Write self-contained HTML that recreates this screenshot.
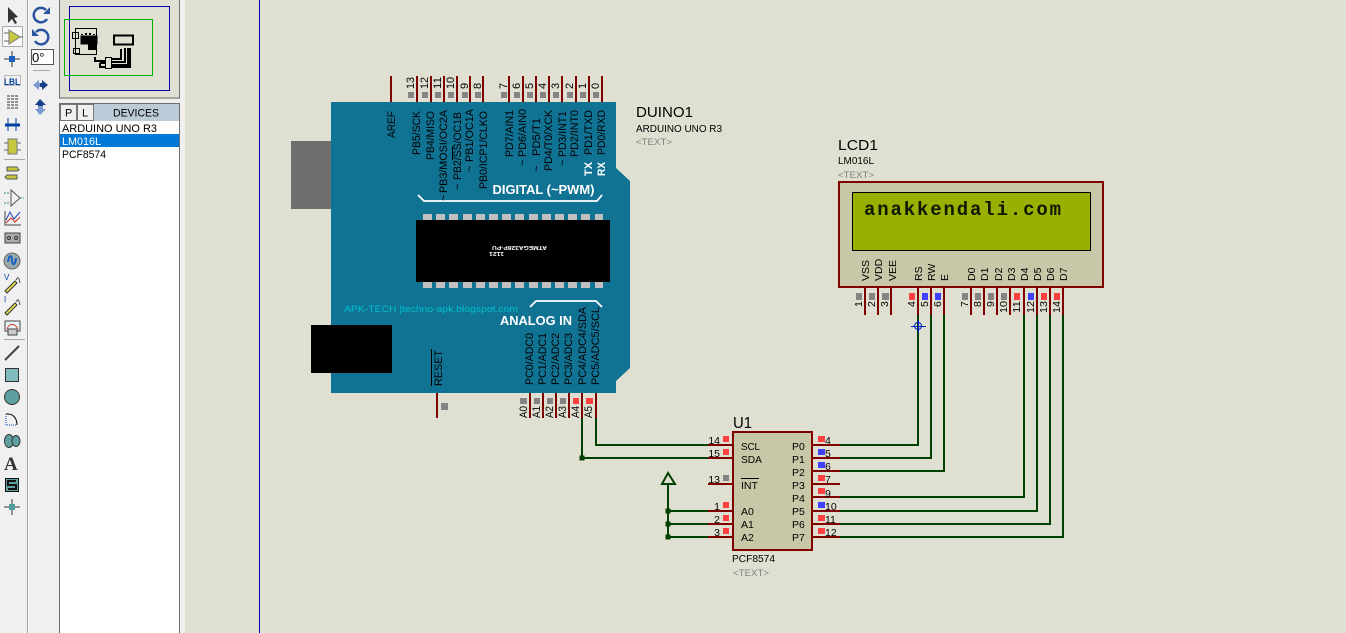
<!DOCTYPE html>
<html><head><meta charset="utf-8"><style>
html,body{margin:0;padding:0;width:1346px;height:633px;overflow:hidden;background:#e0e0d2}
svg{display:block}
text{font-family:"Liberation Sans",sans-serif;fill:#000}
.c{shape-rendering:crispEdges}
</style></head><body>
<svg width="1346" height="633" viewBox="0 0 1346 633" xmlns="http://www.w3.org/2000/svg">
<rect width="1346" height="633" fill="#e0e0d2"/>
<!-- chrome -->
<g class="c">
<rect x="0" y="0" width="185" height="633" fill="#f0f0f0"/>
<rect x="27" y="0" width="1" height="633" fill="#a0a0a0"/>
<rect x="28" y="0" width="1" height="633" fill="#fff"/>
<rect x="59" y="0" width="121" height="99" fill="#e0e0d2"/>
<rect x="59.500" y="-2" width="120" height="100" fill="none" stroke="#6e6e6e"/>
<rect x="59.500" y="103.500" width="120" height="531" fill="#fff" stroke="#6e6e6e"/>
<rect x="94" y="104" width="85" height="17" fill="#bccbd8"/>
<rect x="60.500" y="104.500" width="16" height="16" fill="#f0f0f0" stroke="#777"/>
<rect x="77.500" y="104.500" width="16" height="16" fill="#f0f0f0" stroke="#777"/>
<rect x="60" y="134" width="119" height="13" fill="#0078d7"/>
<rect x="259" y="0" width="1" height="633" fill="#0000c0"/>
<rect x="33" y="70" width="17" height="1" fill="#aaa"/>
<rect x="4" y="159" width="21" height="1" fill="#aaa"/>
<rect x="4" y="339" width="21" height="1" fill="#aaa"/>
<rect x="31.500" y="49.500" width="22" height="15" fill="#fff" stroke="#555"/>
<rect x="69.500" y="6.500" width="100" height="84" fill="none" stroke="#0000b0"/>
<rect x="64.500" y="19.500" width="88" height="56" fill="none" stroke="#00b000"/>
</g>
<!-- mini schematic -->
<g fill="none" stroke="#000" class="c">
<rect x="75.500" y="28.500" width="21" height="26"/>
<rect x="72.500" y="32.500" width="6" height="6"/>
<rect x="73.500" y="48.500" width="6" height="5"/>
<rect x="81" y="36" width="16" height="8" fill="#000"/>
<rect x="88" y="44" width="9" height="6" fill="#000" stroke="none"/>
<rect x="114" y="35.500" width="19" height="9" stroke-width="2"/>
<rect x="105.500" y="57.500" width="6" height="11"/>
<path d="M95 57V61H105M100 63H105M100 63V67H105M112 59H121V49M112 62H125V48M112 65H128V48M112 67H130V48" stroke-width="1.600"/>
</g>
<g fill="#000" class="c"><rect x="81" y="34" width="2" height="1"/><rect x="85" y="33" width="2" height="2"/><rect x="89" y="33" width="2" height="2"/><rect x="93" y="34" width="2" height="1"/></g>
<!-- panel text -->
<text x="65" y="116.500" font-size="11">P</text><text x="82" y="116.500" font-size="11">L</text>
<text x="113" y="116.500" font-size="11" textLength="46" lengthAdjust="spacingAndGlyphs">DEVICES</text>
<text x="62" y="132" font-size="11" textLength="95" lengthAdjust="spacingAndGlyphs">ARDUINO UNO R3</text>
<text x="62" y="145" font-size="11" style="fill:#fff" textLength="39" lengthAdjust="spacingAndGlyphs">LM016L</text>
<text x="62" y="158" font-size="11" textLength="44" lengthAdjust="spacingAndGlyphs">PCF8574</text>
<text x="32" y="62" font-size="13">0°</text>
<!-- toolbar icons -->
<path d="M8 7L8 23L12 19L15 24L17 23L14 18L18 17Z" fill="#333"/>
<rect x="2.500" y="26.500" width="20" height="20" fill="#f8f8f8" stroke="#aaa"/>
<path d="M9 30V44L20 37Z" fill="#c8c840" stroke="#777"/><path d="M4 33H9M4 41H9M20 37H23" stroke="#666"/>
<path d="M4 59H20M12 51V67" stroke="#333"/><rect x="9" y="56" width="6" height="6" fill="#1a5fc0"/>
<text x="4" y="85" font-size="9" font-weight="bold" style="fill:#003fa0" textLength="16" lengthAdjust="spacingAndGlyphs">LBL</text>
<rect x="4.500" y="75.500" width="16" height="10" fill="none" stroke="#888" stroke-dasharray="1 1"/>
<path d="M7 96H18M7 99H18M7 102H18M7 105H18M7 108H18" stroke="#333" stroke-dasharray="3 1"/>
<path d="M5 125H20" stroke="#003fa0" stroke-width="3"/><path d="M8 118V131M16 118V131" stroke="#003fa0"/>
<rect x="8" y="139" width="9" height="15" fill="#c8c840" stroke="#777"/><path d="M4 143H8M4 150H8M17 143H21M17 150H21" stroke="#666"/>
<path d="M7 167H17L19 170L17 171H7ZM7 175H17V179H7L5 177Z" fill="#c8c840" stroke="#555"/>
<path d="M11 190V206L20 198Z" fill="none" stroke="#555"/><path d="M4 193H10M4 203H10M20 198H24" stroke="#2a8a8a" stroke-dasharray="2 1"/>
<path d="M5 211V225H21" fill="none" stroke="#444"/><path d="M6 220L10 212L14 219L20 212" fill="none" stroke="#2040c0"/><path d="M6 223L11 218L15 222L20 217" fill="none" stroke="#d03020"/>
<rect x="5" y="233" width="15" height="10" fill="#aaa" stroke="#444"/><circle cx="9" cy="238" r="1.500" fill="none" stroke="#333"/><circle cx="16" cy="238" r="1.500" fill="none" stroke="#333"/>
<circle cx="12" cy="261" r="8" fill="#9aa" stroke="#666"/><path d="M8 262C9 254 12 255 12 260S15 267 16 258" fill="none" stroke="#1a5fc0" stroke-width="2"/>
<text x="4" y="280" font-size="8" style="fill:#003fa0">V</text><path d="M5 291L15 281L17 283L7 293Z" fill="#e8e050" stroke="#333"/><path d="M16 280C18 276 19 278 20 283" fill="none" stroke="#555"/>
<text x="4" y="302" font-size="8" style="fill:#003fa0">I</text><path d="M5 313L15 303L17 305L7 315Z" fill="#e8e050" stroke="#333"/><path d="M16 302C18 298 19 300 20 305" fill="none" stroke="#555"/>
<rect x="5" y="321" width="15" height="10" fill="#e8f0f8" stroke="#444"/><rect x="8" y="329" width="9" height="6" fill="#ccc" stroke="#444"/><path d="M7 329C9 323 15 323 18 329" fill="none" stroke="#d04020"/>
<path d="M5 360L19 346" stroke="#444" stroke-width="2"/>
<rect x="5.500" y="368.500" width="13" height="13" fill="#7fbcbc" stroke="#333"/>
<circle cx="12" cy="397" r="7.500" fill="#5f9f9f" stroke="#333"/>
<path d="M6 414H8C13 414 17 418 17 425" fill="none" stroke="#000"/><path d="M6 414V425H17" fill="none" stroke="#1a50c0" stroke-dasharray="1 1"/>
<ellipse cx="9" cy="441" rx="4.500" ry="6.500" fill="#5f9f9f" stroke="#333"/><ellipse cx="16" cy="441" rx="4" ry="5.500" fill="#5f9f9f" stroke="#333"/>
<text x="4" y="470" font-size="19" font-weight="bold" style="font-family:'Liberation Serif',serif;fill:#333">A</text>
<rect x="5.500" y="478.500" width="13" height="13" fill="#5f9f9f" stroke="#111"/><path d="M16 481H8V485H16V489H8" fill="none" stroke="#111" stroke-width="2"/>
<path d="M4 507H20M12 499V515" stroke="#333"/><rect x="9" y="504" width="6" height="6" fill="#4f9f9f"/>
<!-- redo / undo -->
<path d="M46 10A7.200 7.200 0 1 0 47 19" fill="none" stroke="#2a54a0" stroke-width="2.500"/><path d="M50 7V14H43Z" fill="#2a54a0"/>
<path d="M36 32A7.200 7.200 0 1 1 35 41" fill="none" stroke="#2a54a0" stroke-width="2.500"/><path d="M32 29V36H39Z" fill="#2a54a0"/>
<path d="M33 85L39 80V83H42V87H39V90Z" fill="#7a9ad0"/><path d="M48 85L42 80V83H40V87H42V90Z" fill="#16408a"/>
<path d="M40 99L35 105H38V108H43V105H46Z" fill="#16408a"/><path d="M40 115L35 109H38V106H43V109H46Z" fill="#7a9ad0"/>

<!-- board -->
<path d="M331 102H616V168L630 181V368L616 381V393H331Z" fill="#107394"/>
<rect class="c" x="291" y="141" width="40" height="68" fill="#6e6e6e"/>
<rect class="c" x="311" y="325" width="81" height="48" fill="#000"/>
<rect class="c" x="416" y="220" width="194" height="62" fill="#000"/>
<g class="c" fill="#c0c0c0">
<rect x="423" y="214" width="9" height="6"/><rect x="436" y="214" width="9" height="6"/><rect x="449" y="214" width="9" height="6"/><rect x="463" y="214" width="9" height="6"/><rect x="476" y="214" width="9" height="6"/><rect x="489" y="214" width="9" height="6"/><rect x="502" y="214" width="9" height="6"/><rect x="515" y="214" width="9" height="6"/><rect x="529" y="214" width="9" height="6"/><rect x="542" y="214" width="9" height="6"/><rect x="555" y="214" width="9" height="6"/><rect x="568" y="214" width="9" height="6"/><rect x="581" y="214" width="9" height="6"/><rect x="595" y="214" width="8" height="6"/>
<rect x="423" y="282" width="9" height="6"/><rect x="436" y="282" width="9" height="6"/><rect x="449" y="282" width="9" height="6"/><rect x="463" y="282" width="9" height="6"/><rect x="476" y="282" width="9" height="6"/><rect x="489" y="282" width="9" height="6"/><rect x="502" y="282" width="9" height="6"/><rect x="515" y="282" width="9" height="6"/><rect x="529" y="282" width="9" height="6"/><rect x="542" y="282" width="9" height="6"/><rect x="555" y="282" width="9" height="6"/><rect x="568" y="282" width="9" height="6"/><rect x="581" y="282" width="9" height="6"/><rect x="595" y="282" width="8" height="6"/>
</g>
<text transform="rotate(180 547 246)" x="547" y="246" font-size="5" font-weight="bold" style="fill:#fff" textLength="55" lengthAdjust="spacingAndGlyphs">ATMEGA328P-PU</text>
<text transform="rotate(180 504 252)" x="504" y="252" font-size="5.500" font-weight="bold" style="fill:#fff" textLength="15" lengthAdjust="spacingAndGlyphs">1121</text>
<path d="M418 195L424 201H597L602 195M530 307L536 301H596L602 307" fill="none" stroke="#fff" stroke-width="1.800"/>
<text x="492.500" y="194" font-size="13" font-weight="bold" style="fill:#fff" textLength="102" lengthAdjust="spacingAndGlyphs">DIGITAL (~PWM)</text>
<text x="500" y="325" font-size="13" font-weight="bold" style="fill:#fff" textLength="72" lengthAdjust="spacingAndGlyphs">ANALOG IN</text>
<text x="344" y="312" font-size="9.500" style="fill:#00c0cc" textLength="174" lengthAdjust="spacingAndGlyphs">APK-TECH |techno-apk.blogspot.com</text>

<!-- wires -->
<g class="c" fill="none" stroke="#004000" stroke-width="2">
<path d="M596 418V445H708M582 418V458H708"/>
<path d="M840 445H918V315M840 458H931V315M840 471H944V315"/>
<path d="M840 497H1024V315M840 511H1037V315M840 524H1050V315M840 537H1063V315"/>
<path d="M668 485V537M668 511H708M668 524H708M668 537H708"/>
<path d="M662 484H675"/>
</g>
<path d="M668 473L662 484H675Z" fill="none" stroke="#004000" stroke-width="2"/>
<g class="c" fill="#004000"><rect x="579.500" y="455.500" width="5" height="5"/><rect x="665.500" y="508.500" width="5" height="5"/><rect x="665.500" y="521.500" width="5" height="5"/><rect x="665.500" y="534.500" width="5" height="5"/></g>

<!-- pins -->
<g class="c" fill="none" stroke="#800000" stroke-width="2">
<path d="M391 76V102M417 76V102M431 76V102M444 76V102M457 76V102M470 76V102M483 76V102M509 76V102M523 76V102M536 76V102M549 76V102M562 76V102M576 76V102M589 76V102M602 76V102"/>
<path d="M437 393V418M530 393V418M543 393V418M556 393V418M569 393V418M582 393V418M596 393V418"/>
<path d="M865 287V315M878 287V315M891 287V315M918 287V315M931 287V315M944 287V315M971 287V315M984 287V315M997 287V315M1010 287V315M1024 287V315M1037 287V315M1050 287V315M1063 287V315"/>
<path d="M708 445H733M708 458H733M708 484H733M708 511H733M708 524H733M708 537H733"/>
<path d="M813 445H840M813 458H840M813 471H840M813 484H840M813 497H840M813 511H840M813 524H840M813 537H840"/>
</g>
<g class="c" fill="#848484">
<rect x="408" y="92" width="6" height="6"/><rect x="422" y="92" width="6" height="6"/><rect x="435" y="92" width="6" height="6"/><rect x="448" y="92" width="6" height="6"/><rect x="462" y="92" width="6" height="6"/><rect x="475" y="92" width="6" height="6"/>
<rect x="501" y="92" width="6" height="6"/><rect x="514" y="92" width="6" height="6"/><rect x="527" y="92" width="6" height="6"/><rect x="540" y="92" width="6" height="6"/><rect x="553" y="92" width="6" height="6"/><rect x="567" y="92" width="6" height="6"/><rect x="580" y="92" width="6" height="6"/><rect x="593" y="92" width="6" height="6"/>
<rect x="520" y="398" width="7" height="6"/><rect x="534" y="398" width="6" height="6"/><rect x="547" y="398" width="6" height="6"/><rect x="560" y="398" width="6" height="6"/>
<rect x="441" y="403" width="7" height="7"/>
<rect x="856" y="293" width="6" height="7"/><rect x="869" y="293" width="6" height="7"/><rect x="882" y="293" width="7" height="7"/>
<rect x="962" y="293" width="6" height="7"/><rect x="975" y="293" width="6" height="7"/><rect x="988" y="293" width="6" height="7"/><rect x="1001" y="293" width="6" height="7"/>
<rect x="723" y="475" width="6" height="6"/>
</g>
<g class="c" fill="#ff4040">
<rect x="573" y="398" width="6" height="6"/><rect x="586" y="398" width="7" height="6"/>
<rect x="909" y="293" width="6" height="7"/><rect x="1014" y="293" width="6" height="7"/><rect x="1041" y="293" width="6" height="7"/><rect x="1054" y="293" width="6" height="7"/>
<rect x="723" y="436" width="6" height="6"/><rect x="723" y="449" width="6" height="6"/><rect x="723" y="502" width="6" height="6"/><rect x="723" y="515" width="6" height="6"/><rect x="723" y="528" width="6" height="6"/>
<rect x="818" y="436" width="7" height="6"/><rect x="818" y="475" width="7" height="6"/><rect x="818" y="488" width="7" height="6"/><rect x="818" y="515" width="7" height="6"/><rect x="818" y="528" width="7" height="6"/>
</g>
<g class="c" fill="#4040ff">
<rect x="922" y="293" width="6" height="7"/><rect x="935" y="293" width="6" height="7"/><rect x="1028" y="293" width="6" height="7"/>
<rect x="818" y="449" width="7" height="6"/><rect x="818" y="462" width="7" height="6"/><rect x="818" y="502" width="7" height="6"/>
</g>

<!-- arduino pin text -->
<g font-size="11">
<text transform="translate(395 138) rotate(-90)" textLength="27" lengthAdjust="spacingAndGlyphs">AREF</text>
<text transform="translate(420 155) rotate(-90)" textLength="44" lengthAdjust="spacingAndGlyphs">PB5/SCK</text>
<text transform="translate(434 160) rotate(-90)" textLength="49" lengthAdjust="spacingAndGlyphs">PB4/MISO</text>
<text transform="translate(447 193) rotate(-90)" textLength="83" lengthAdjust="spacingAndGlyphs">PB3/MOSI/OC2A</text>
<text transform="translate(447 201) rotate(-90)">~</text>
<text transform="translate(461 180) rotate(-90)" textLength="68" lengthAdjust="spacingAndGlyphs">PB2/SS/OC1B</text>
<text transform="translate(461 190) rotate(-90)">~</text>
<text transform="translate(473 162) rotate(-90)" textLength="53" lengthAdjust="spacingAndGlyphs">PB1/OC1A</text>
<text transform="translate(473 172) rotate(-90)">~</text>
<text transform="translate(487 189) rotate(-90)" textLength="78" lengthAdjust="spacingAndGlyphs">PB0/ICP1/CLKO</text>
<text transform="translate(513 157) rotate(-90)" textLength="47" lengthAdjust="spacingAndGlyphs">PD7/AIN1</text>
<text transform="translate(526 157) rotate(-90)" textLength="48" lengthAdjust="spacingAndGlyphs">PD6/AIN0</text>
<text transform="translate(526 166) rotate(-90)">~</text>
<text transform="translate(540 156) rotate(-90)" textLength="38" lengthAdjust="spacingAndGlyphs">PD5/T1</text>
<text transform="translate(540 172) rotate(-90)">~</text>
<text transform="translate(552 171) rotate(-90)" textLength="61" lengthAdjust="spacingAndGlyphs">PD4/T0/XCK</text>
<text transform="translate(566 157) rotate(-90)" textLength="46" lengthAdjust="spacingAndGlyphs">PD3/INT1</text>
<text transform="translate(566 166) rotate(-90)">~</text>
<text transform="translate(578 157) rotate(-90)" textLength="47" lengthAdjust="spacingAndGlyphs">PD2/INT0</text>
<text transform="translate(592 155) rotate(-90)" textLength="45" lengthAdjust="spacingAndGlyphs">PD1/TXD</text>
<text transform="translate(605 155) rotate(-90)" textLength="45" lengthAdjust="spacingAndGlyphs">PD0/RXD</text>
<text transform="translate(592 176) rotate(-90)" font-weight="bold" style="fill:#fff" textLength="14" lengthAdjust="spacingAndGlyphs">TX</text>
<text transform="translate(605 176) rotate(-90)" font-weight="bold" style="fill:#fff" textLength="14" lengthAdjust="spacingAndGlyphs">RX</text>
<text transform="translate(414 89) rotate(-90)" textLength="12" lengthAdjust="spacingAndGlyphs">13</text>
<text transform="translate(428 89) rotate(-90)" textLength="12" lengthAdjust="spacingAndGlyphs">12</text>
<text transform="translate(441 89) rotate(-90)" textLength="12" lengthAdjust="spacingAndGlyphs">11</text>
<text transform="translate(454 89) rotate(-90)" textLength="12" lengthAdjust="spacingAndGlyphs">10</text>
<text transform="translate(468 89) rotate(-90)">9</text>
<text transform="translate(481 89) rotate(-90)">8</text>
<text transform="translate(507 89) rotate(-90)">7</text>
<text transform="translate(520 89) rotate(-90)">6</text>
<text transform="translate(533 89) rotate(-90)">5</text>
<text transform="translate(546 89) rotate(-90)">4</text>
<text transform="translate(559 89) rotate(-90)">3</text>
<text transform="translate(573 89) rotate(-90)">2</text>
<text transform="translate(586 89) rotate(-90)">1</text>
<text transform="translate(599 89) rotate(-90)">0</text>
<text transform="translate(533 385) rotate(-90)" textLength="52" lengthAdjust="spacingAndGlyphs">PC0/ADC0</text>
<text transform="translate(546 385) rotate(-90)" textLength="52" lengthAdjust="spacingAndGlyphs">PC1/ADC1</text>
<text transform="translate(559 385) rotate(-90)" textLength="52" lengthAdjust="spacingAndGlyphs">PC2/ADC2</text>
<text transform="translate(572 385) rotate(-90)" textLength="52" lengthAdjust="spacingAndGlyphs">PC3/ADC3</text>
<text transform="translate(586 385) rotate(-90)" textLength="78" lengthAdjust="spacingAndGlyphs">PC4/ADC4/SDA</text>
<text transform="translate(599 385) rotate(-90)" textLength="78" lengthAdjust="spacingAndGlyphs">PC5/ADC5/SCL</text>
<text transform="translate(442 386) rotate(-90)" textLength="36" lengthAdjust="spacingAndGlyphs">RESET</text>
<text transform="translate(527 418) rotate(-90)" textLength="12" lengthAdjust="spacingAndGlyphs">A0</text>
<text transform="translate(540 418) rotate(-90)" textLength="12" lengthAdjust="spacingAndGlyphs">A1</text>
<text transform="translate(553 418) rotate(-90)" textLength="12" lengthAdjust="spacingAndGlyphs">A2</text>
<text transform="translate(566 418) rotate(-90)" textLength="12" lengthAdjust="spacingAndGlyphs">A3</text>
<text transform="translate(579 418) rotate(-90)" textLength="12" lengthAdjust="spacingAndGlyphs">A4</text>
<text transform="translate(592 418) rotate(-90)" textLength="12" lengthAdjust="spacingAndGlyphs">A5</text>
</g>
<path class="c" d="M431.500 349V386M452.500 146V160" stroke="#000" fill="none"/>
<!-- arduino labels -->
<text x="636" y="117" font-size="15" textLength="57" lengthAdjust="spacingAndGlyphs">DUINO1</text>
<text x="636" y="132" font-size="10" textLength="86" lengthAdjust="spacingAndGlyphs">ARDUINO UNO R3</text>
<text x="636" y="145" font-size="9.500" style="fill:#808080" textLength="36" lengthAdjust="spacingAndGlyphs">&lt;TEXT&gt;</text>

<!-- LCD -->
<rect class="c" x="839" y="182" width="264" height="105" fill="#c8c8a8" stroke="#800000" stroke-width="2"/>
<rect class="c" x="852.500" y="192.500" width="238" height="58" fill="#99b000" stroke="#000"/>
<text x="864" y="215" font-size="19" font-weight="bold" style="font-family:'Liberation Mono',monospace;fill:#101800" textLength="197" lengthAdjust="spacing">anakkendali.com</text>
<text x="838" y="150" font-size="15" textLength="40" lengthAdjust="spacingAndGlyphs">LCD1</text>
<text x="838" y="164" font-size="10" textLength="36" lengthAdjust="spacingAndGlyphs">LM016L</text>
<text x="838" y="178" font-size="9.500" style="fill:#808080" textLength="36" lengthAdjust="spacingAndGlyphs">&lt;TEXT&gt;</text>
<g font-size="10.500">
<text transform="translate(869 281) rotate(-90)">VSS</text>
<text transform="translate(882 281) rotate(-90)">VDD</text>
<text transform="translate(896 281) rotate(-90)">VEE</text>
<text transform="translate(922 281) rotate(-90)">RS</text>
<text transform="translate(935 281) rotate(-90)">RW</text>
<text transform="translate(948 281) rotate(-90)">E</text>
<text transform="translate(975 281) rotate(-90)">D0</text>
<text transform="translate(988 281) rotate(-90)">D1</text>
<text transform="translate(1002 281) rotate(-90)">D2</text>
<text transform="translate(1015 281) rotate(-90)">D3</text>
<text transform="translate(1028 281) rotate(-90)">D4</text>
<text transform="translate(1041 281) rotate(-90)">D5</text>
<text transform="translate(1054 281) rotate(-90)">D6</text>
<text transform="translate(1067 281) rotate(-90)">D7</text>
<text transform="translate(862 307) rotate(-90)">1</text>
<text transform="translate(875 307) rotate(-90)">2</text>
<text transform="translate(888 307) rotate(-90)">3</text>
<text transform="translate(915 307) rotate(-90)">4</text>
<text transform="translate(928 307) rotate(-90)">5</text>
<text transform="translate(941 307) rotate(-90)">6</text>
<text transform="translate(968 307) rotate(-90)">7</text>
<text transform="translate(981 307) rotate(-90)">8</text>
<text transform="translate(994 307) rotate(-90)">9</text>
<text transform="translate(1007 313) rotate(-90)" textLength="12" lengthAdjust="spacingAndGlyphs">10</text>
<text transform="translate(1020 313) rotate(-90)" textLength="12" lengthAdjust="spacingAndGlyphs">11</text>
<text transform="translate(1034 313) rotate(-90)" textLength="12" lengthAdjust="spacingAndGlyphs">12</text>
<text transform="translate(1047 313) rotate(-90)" textLength="12" lengthAdjust="spacingAndGlyphs">13</text>
<text transform="translate(1060 313) rotate(-90)" textLength="12" lengthAdjust="spacingAndGlyphs">14</text>
</g>
<circle cx="918" cy="326" r="3.500" fill="none" stroke="#0020c0"/><path class="c" d="M911 326.500H926M918.500 320V333" stroke="#0020c0" fill="none"/>

<!-- U1 -->
<rect class="c" x="733" y="432" width="79" height="118" fill="#c8c8a8" stroke="#800000" stroke-width="2"/>
<text x="733" y="428" font-size="16" textLength="19" lengthAdjust="spacingAndGlyphs">U1</text>
<text x="732" y="562" font-size="10" textLength="43" lengthAdjust="spacingAndGlyphs">PCF8574</text>
<text x="733" y="576" font-size="9.500" style="fill:#808080" textLength="36" lengthAdjust="spacingAndGlyphs">&lt;TEXT&gt;</text>
<g font-size="10.500">
<text x="741" y="450" textLength="19" lengthAdjust="spacingAndGlyphs">SCL</text>
<text x="741" y="463" textLength="21" lengthAdjust="spacingAndGlyphs">SDA</text>
<text x="741" y="489" textLength="17" lengthAdjust="spacingAndGlyphs">INT</text>
<text x="741" y="515">A0</text><text x="741" y="528">A1</text><text x="741" y="541">A2</text>
<text x="792" y="450">P0</text><text x="792" y="463">P1</text><text x="792" y="476">P2</text><text x="792" y="489">P3</text><text x="792" y="502">P4</text><text x="792" y="515">P5</text><text x="792" y="528">P6</text><text x="792" y="541">P7</text>
<text x="720" y="444" text-anchor="end">14</text><text x="720" y="457" text-anchor="end">15</text><text x="720" y="483" text-anchor="end">13</text><text x="720" y="510" text-anchor="end">1</text><text x="720" y="523" text-anchor="end">2</text><text x="720" y="536" text-anchor="end">3</text>
<text x="825" y="444">4</text><text x="825" y="457">5</text><text x="825" y="470">6</text><text x="825" y="483">7</text><text x="825" y="497">9</text><text x="825" y="510">10</text><text x="825" y="523">11</text><text x="825" y="536">12</text>
</g>
<path class="c" d="M741 478.500H759" stroke="#000" fill="none"/>
</svg>
</body></html>
